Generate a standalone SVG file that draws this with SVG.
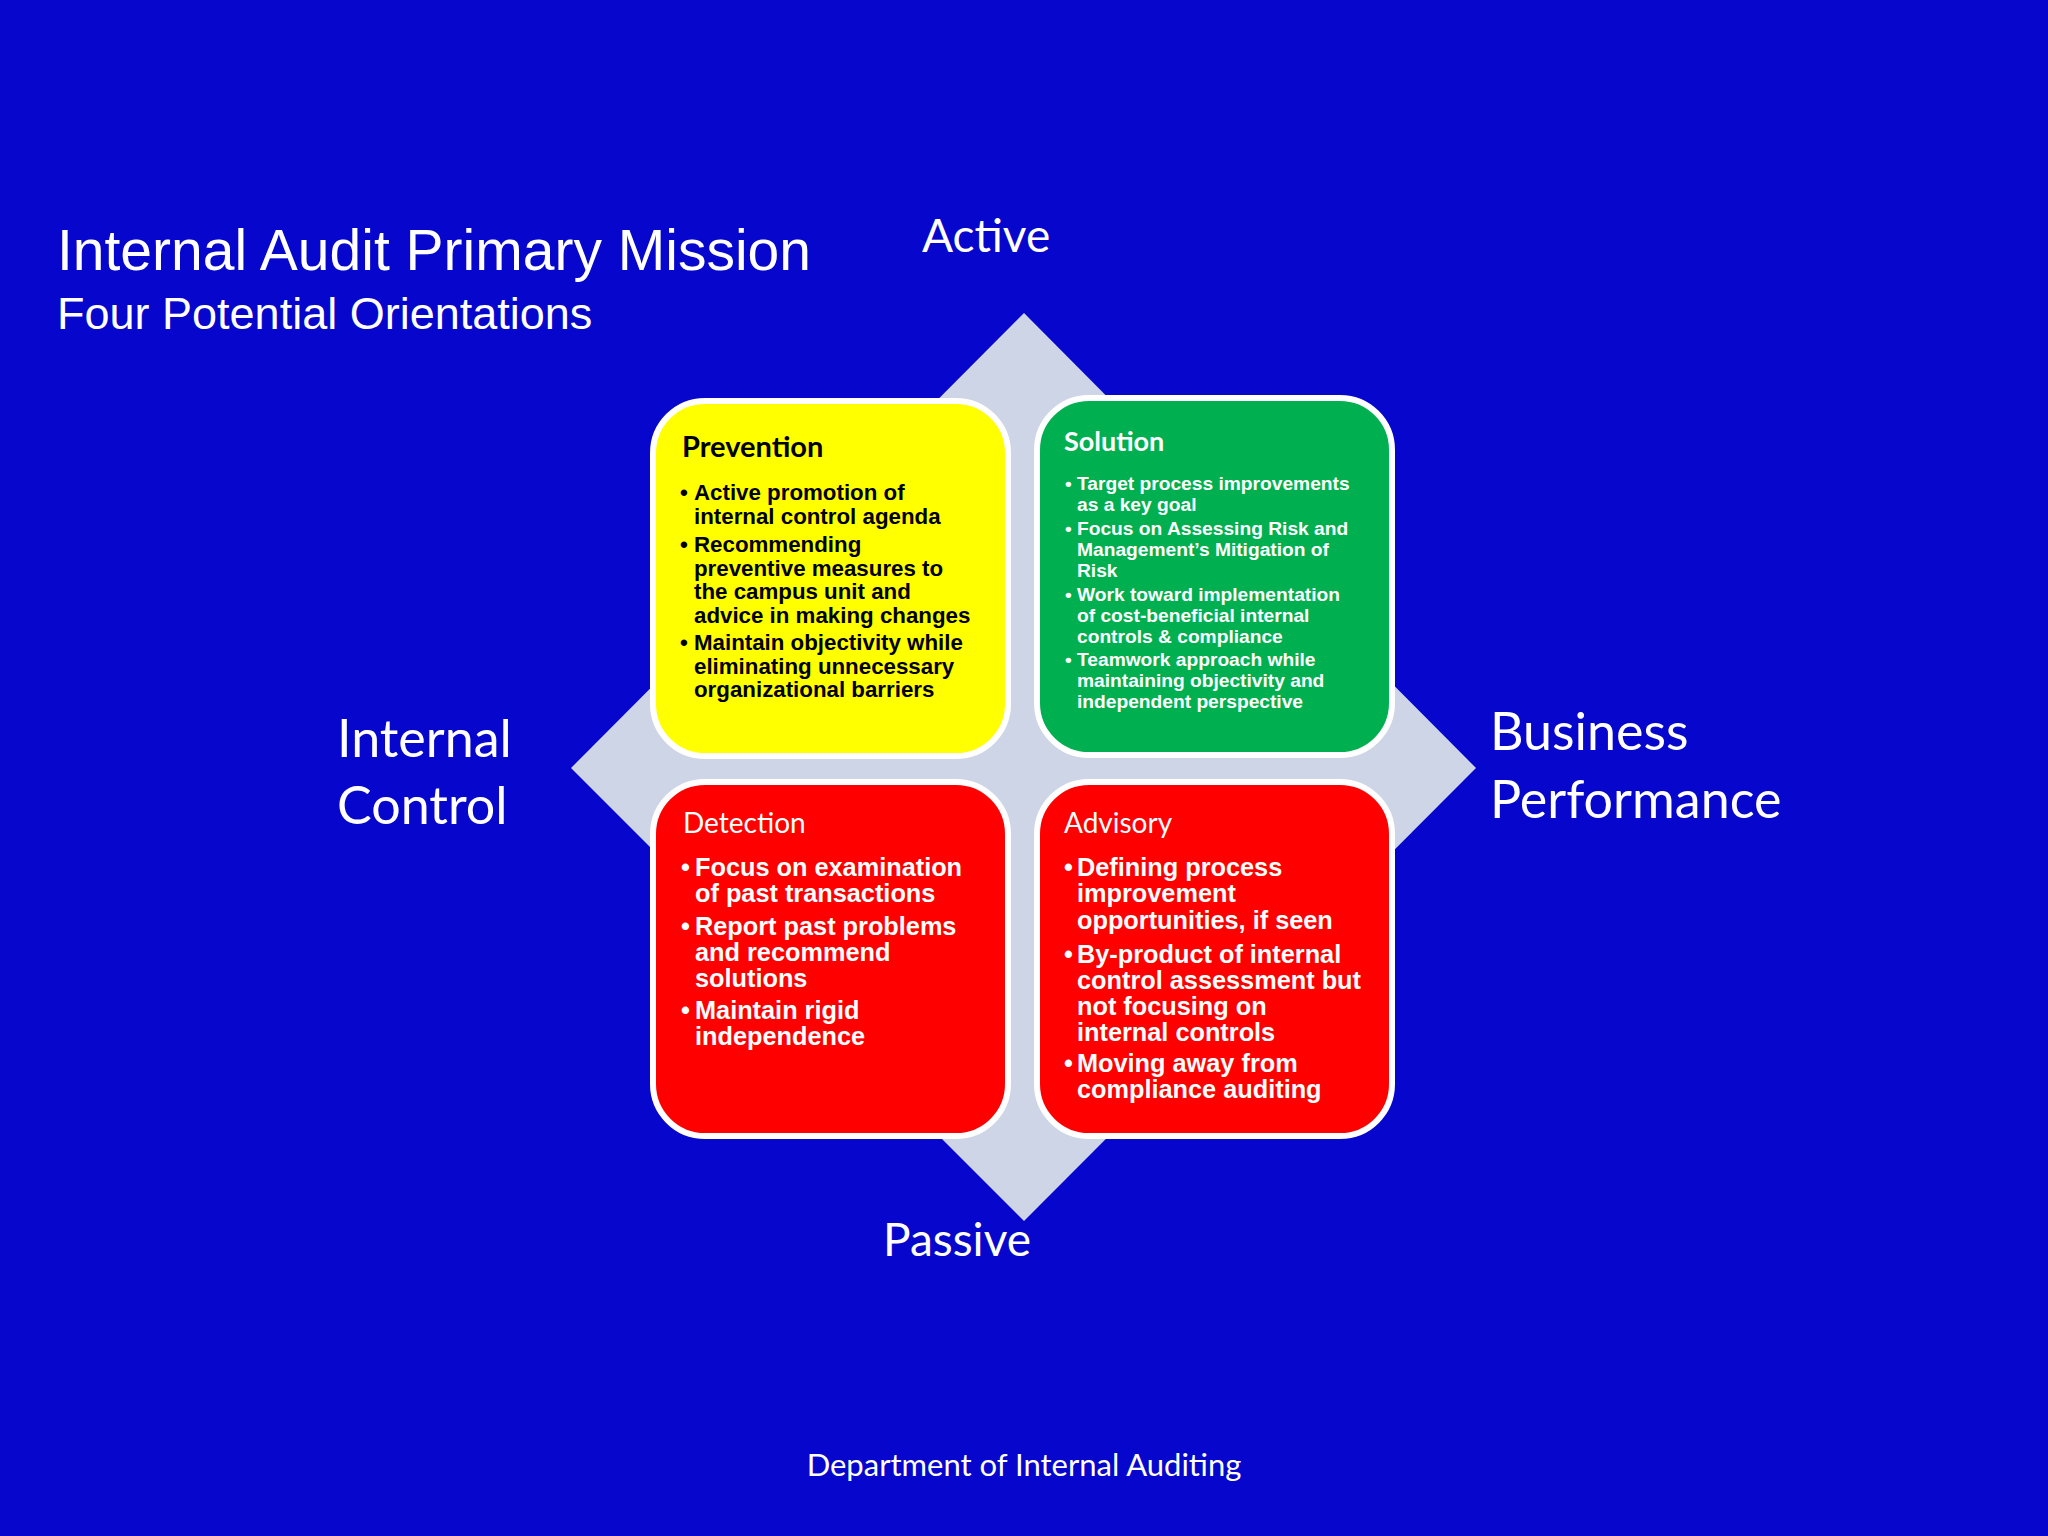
<svg xmlns="http://www.w3.org/2000/svg" width="2048" height="1536" viewBox="0 0 2048 1536">
<style>
.c{font-family:Lato,"Open Sans",sans-serif;fill:#fff}
.b{font-family:"Liberation Sans",Arial,sans-serif;font-weight:bold}
.box{stroke:#fff;stroke-width:6}
</style>
<rect width="2048" height="1536" fill="#0606CC"/>
<g id="title" font-family="Liberation Sans,Arial,sans-serif" fill="#fff">
<text x="57" y="270" font-size="57">Internal Audit Primary Mission</text>
<text x="57" y="329" font-size="45">Four Potential Orientations</text>
</g>
<g id="axes">
<polygon points="1024,313 1476,768 1024,1221 571,768" fill="#CDD5E6"/>
<text class="c" x="922" y="252" font-size="46">Active</text>
<text class="c" x="883" y="1256" font-size="46">Passive</text>
<text class="c" x="337" y="757" font-size="52">Internal</text>
<text class="c" x="337" y="824" font-size="52">Control</text>
<text class="c" x="1490" y="750" font-size="52">Business</text>
<text class="c" x="1490" y="818" font-size="52">Performance</text>
</g>
<g id="prevention">
<rect class="box" x="653" y="401" width="355" height="355" rx="52" fill="#FFFF00"/>
<text x="682" y="457" font-family="Lato,'Open Sans',sans-serif" font-weight="bold" font-size="29" fill="#000">Prevention</text>
<g class="b" font-size="22.3" fill="#000">
<text x="680" y="500">•</text><text x="694" y="500">Active promotion of</text>
<text x="694" y="524">internal control agenda</text>
<text x="680" y="552">•</text><text x="694" y="552">Recommending</text>
<text x="694" y="576">preventive measures to</text>
<text x="694" y="599">the campus unit and</text>
<text x="694" y="623">advice in making changes</text>
<text x="680" y="650">•</text><text x="694" y="650">Maintain objectivity while</text>
<text x="694" y="674">eliminating unnecessary</text>
<text x="694" y="697">organizational barriers</text>
</g>
</g>
<g id="solution">
<rect class="box" x="1037" y="398" width="355" height="357" rx="52" fill="#00B050"/>
<text class="c" x="1064" y="451" font-weight="bold" font-size="27">Solution</text>
<g class="b" font-size="19.2" fill="#fff">
<text x="1065" y="490">•</text><text x="1077" y="490">Target process improvements</text>
<text x="1077" y="511">as a key goal</text>
<text x="1065" y="535">•</text><text x="1077" y="535">Focus on Assessing Risk and</text>
<text x="1077" y="556">Management’s Mitigation of</text>
<text x="1077" y="577">Risk</text>
<text x="1065" y="601">•</text><text x="1077" y="601">Work toward implementation</text>
<text x="1077" y="622">of cost-beneficial internal</text>
<text x="1077" y="643">controls &amp; compliance</text>
<text x="1065" y="666">•</text><text x="1077" y="666">Teamwork approach while</text>
<text x="1077" y="687">maintaining objectivity and</text>
<text x="1077" y="708">independent perspective</text>
</g>
</g>
<g id="detection">
<rect class="box" x="653" y="782" width="355" height="354" rx="52" fill="#FF0000"/>
<text class="c" x="683" y="833" font-size="28">Detection</text>
<g class="b" font-size="25.3" fill="#fff">
<text x="681" y="876">•</text><text x="695" y="876">Focus on examination</text>
<text x="695" y="902">of past transactions</text>
<text x="681" y="935">•</text><text x="695" y="935">Report past problems</text>
<text x="695" y="961">and recommend</text>
<text x="695" y="987">solutions</text>
<text x="681" y="1019">•</text><text x="695" y="1019">Maintain rigid</text>
<text x="695" y="1045">independence</text>
</g>
</g>
<g id="advisory">
<rect class="box" x="1037" y="782" width="355" height="354" rx="52" fill="#FF0000"/>
<text class="c" x="1064" y="833" font-size="28">Advisory</text>
<g class="b" font-size="25.3" fill="#fff">
<text x="1064" y="876">•</text><text x="1077" y="876">Defining process</text>
<text x="1077" y="902">improvement</text>
<text x="1077" y="929">opportunities, if seen</text>
<text x="1064" y="963">•</text><text x="1077" y="963">By-product of internal</text>
<text x="1077" y="989">control assessment but</text>
<text x="1077" y="1015">not focusing on</text>
<text x="1077" y="1041">internal controls</text>
<text x="1064" y="1072">•</text><text x="1077" y="1072">Moving away from</text>
<text x="1077" y="1098">compliance auditing</text>
</g>
</g>
<g id="connectors"></g>
<text class="c" x="1024" y="1476" font-size="31" text-anchor="middle">Department of Internal Auditing</text>
</svg>
